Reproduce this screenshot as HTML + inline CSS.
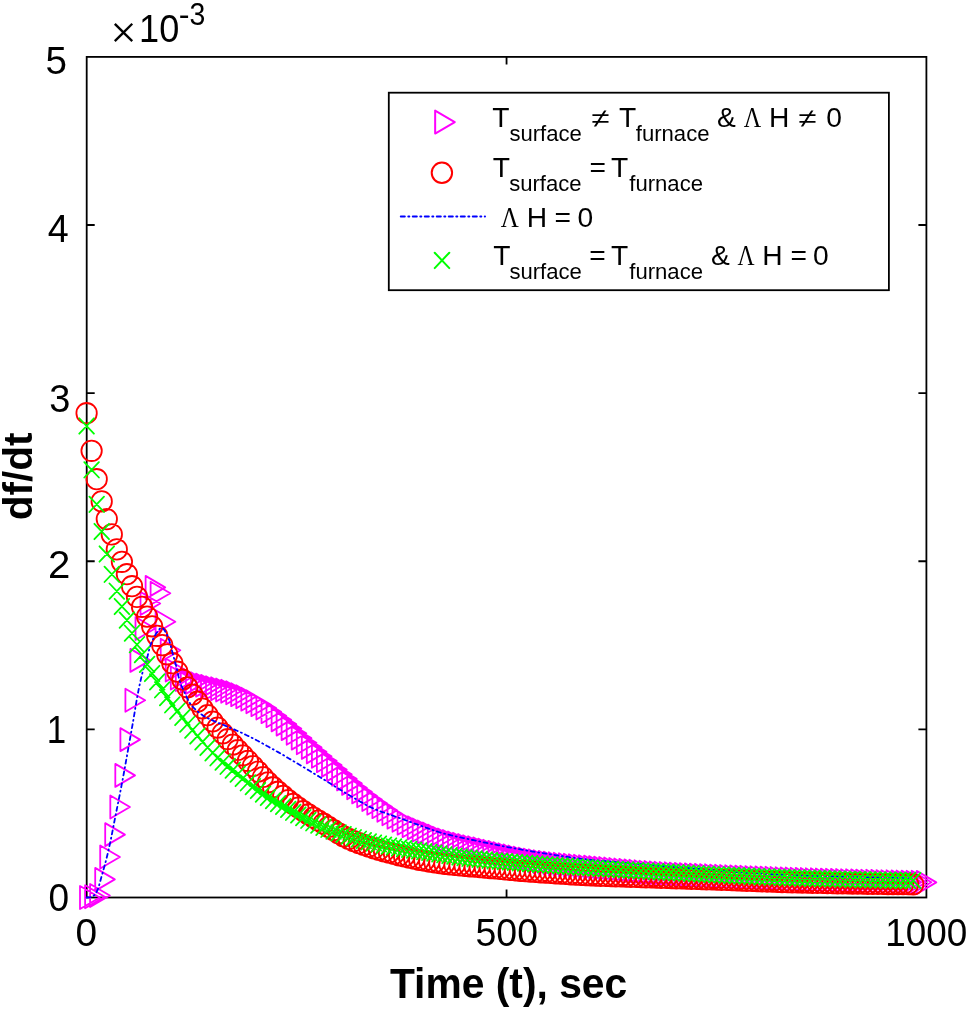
<!DOCTYPE html>
<html><head><meta charset="utf-8"><title>df/dt vs Time</title>
<style>
html,body{margin:0;padding:0;background:#fff;width:969px;height:1009px;overflow:hidden}
svg{display:block}
text{font-family:"Liberation Sans", Arial, sans-serif}
</style></head>
<body>
<svg width="969" height="1009" viewBox="0 0 969 1009">
<rect width="969" height="1009" fill="#fff"/>
<g fill="none" stroke="#000" stroke-width="1.8">
<rect x="86.7" y="56.9" width="839.70" height="840.60"/>
<path d="M86.7,729.38h8M926.4,729.38h-8M86.7,561.26h8M926.4,561.26h-8M86.7,393.14h8M926.4,393.14h-8M86.7,225.02h8M926.4,225.02h-8M506.55,897.5v-8M506.55,56.9v7.5"/>
</g>
<g fill="none" stroke-width="1.8">
<path d="M80,886L80,909L99.7,897.5ZM85.1,885.3L85.1,908.3L104.7,896.8ZM90.1,884L90.1,907L109.8,895.5ZM95.2,867.9L95.2,890.9L114.8,879.4ZM100.2,845.5L100.2,868.5L119.9,857ZM105.2,823.1L105.2,846.1L124.9,834.6ZM110.3,795.5L110.3,818.5L129.9,807ZM115.3,763.9L115.3,786.9L135,775.4ZM120.4,728.1L120.4,751.1L140,739.6ZM125.4,688.8L125.4,711.8L145.1,700.3ZM130.4,648.9L130.4,671.9L150.1,660.4ZM135.5,617L135.5,640L155.1,628.5ZM140.5,592L140.5,615L160.2,603.5ZM145.6,575.9L145.6,598.9L165.2,587.4ZM150.6,581.7L150.6,604.7L170.3,593.2ZM155.6,610.3L155.6,633.3L175.3,621.8ZM160.7,638.7L160.7,661.7L180.3,650.2ZM165.7,658.5L165.7,681.5L185.4,670ZM170.8,666.5L170.8,689.5L190.4,678ZM175.8,668L175.8,691L195.5,679.5ZM180.8,669.4L180.8,692.4L200.5,680.9ZM185.9,670.9L185.9,693.9L205.5,682.4ZM190.9,672.2L190.9,695.2L210.6,683.7ZM196,673.6L196,696.6L215.6,685.1ZM201,674.9L201,697.9L220.7,686.4ZM206,676.2L206,699.2L225.7,687.7ZM211.1,677.3L211.1,700.3L230.7,688.8ZM216.1,678.5L216.1,701.5L235.8,690ZM221.2,679.8L221.2,702.8L240.8,691.3ZM226.2,681.3L226.2,704.3L245.9,692.8ZM231.2,683.2L231.2,706.2L250.9,694.7ZM236.3,685.3L236.3,708.3L255.9,696.8ZM241.3,687.7L241.3,710.7L261,699.2ZM246.4,690.3L246.4,713.3L266,701.8ZM251.4,693.2L251.4,716.2L271.1,704.7ZM256.4,696.5L256.4,719.5L276.1,708ZM261.5,700.2L261.5,723.2L281.1,711.7ZM266.5,704.2L266.5,727.2L286.2,715.7ZM271.6,708.4L271.6,731.4L291.2,719.9ZM276.6,712.6L276.6,735.6L296.3,724.1ZM281.6,717.1L281.6,740.1L301.3,728.6ZM286.7,721.8L286.7,744.8L306.3,733.3ZM291.7,726.6L291.7,749.6L311.4,738.1ZM296.8,731.3L296.8,754.3L316.4,742.8ZM301.8,735.9L301.8,758.9L321.5,747.4ZM306.8,740.4L306.8,763.4L326.5,751.9ZM311.9,744.8L311.9,767.8L331.5,756.3ZM316.9,749.2L316.9,772.2L336.6,760.7ZM322,753.6L322,776.6L341.6,765.1ZM327,758.1L327,781.1L346.7,769.6ZM332.1,762.8L332.1,785.8L351.7,774.3ZM337.1,767.4L337.1,790.4L356.7,778.9ZM342.1,771.9L342.1,794.9L361.8,783.4ZM347.2,776.3L347.2,799.3L366.8,787.8ZM352.2,780.4L352.2,803.4L371.9,791.9ZM357.2,784.3L357.2,807.3L376.9,795.8ZM362.3,788L362.3,811L381.9,799.5ZM367.3,791.7L367.3,814.7L387,803.2ZM372.4,795.2L372.4,818.2L392,806.7ZM377.4,798.8L377.4,821.8L397.1,810.3ZM382.4,802.3L382.4,825.3L402.1,813.8ZM387.5,805.7L387.5,828.7L407.1,817.2ZM392.5,808.8L392.5,831.8L412.2,820.3ZM397.6,811.7L397.6,834.7L417.2,823.2ZM402.6,814.2L402.6,837.2L422.3,825.7ZM407.7,816.4L407.7,839.4L427.3,827.9ZM412.7,818.5L412.7,841.5L432.3,830ZM417.7,820.5L417.7,843.5L437.4,832ZM422.8,822.5L422.8,845.5L442.4,834ZM427.8,824.6L427.8,847.6L447.5,836.1ZM432.8,826.7L432.8,849.7L452.5,838.2ZM437.9,828.5L437.9,851.5L457.5,840ZM442.9,830L442.9,853L462.6,841.5ZM448,831.5L448,854.5L467.6,843ZM453,832.8L453,855.8L472.7,844.3ZM458.1,834L458.1,857L477.7,845.5ZM463.1,835.2L463.1,858.2L482.7,846.7ZM468.1,836.3L468.1,859.3L487.8,847.8ZM473.2,837.4L473.2,860.4L492.8,848.9ZM478.2,838.6L478.2,861.6L497.9,850.1ZM483.2,839.7L483.2,862.7L502.9,851.2ZM488.3,840.9L488.3,863.9L507.9,852.4ZM493.3,842.1L493.3,865.1L513,853.6ZM498.4,843.3L498.4,866.3L518,854.8ZM503.4,844.4L503.4,867.4L523.1,855.9ZM508.4,845.5L508.4,868.5L528.1,857ZM513.5,846.6L513.5,869.6L533.1,858.1ZM518.5,847.6L518.5,870.6L538.2,859.1ZM523.6,848.6L523.6,871.6L543.2,860.1ZM528.6,849.4L528.6,872.4L548.3,860.9ZM533.7,850.2L533.7,873.2L553.3,861.7ZM538.7,850.9L538.7,873.9L558.3,862.4ZM543.7,851.6L543.7,874.6L563.4,863.1ZM548.8,852.2L548.8,875.2L568.4,863.7ZM553.8,852.7L553.8,875.7L573.5,864.2ZM558.9,853.2L558.9,876.2L578.5,864.7ZM563.9,853.8L563.9,876.8L583.5,865.3ZM568.9,854.2L568.9,877.2L588.6,865.7ZM574,854.7L574,877.7L593.6,866.2ZM579,855.2L579,878.2L598.7,866.7ZM584.1,855.6L584.1,878.6L603.7,867.1ZM589.1,856.1L589.1,879.1L608.7,867.6ZM594.1,856.6L594.1,879.6L613.8,868.1ZM599.2,857L599.2,880L618.8,868.5ZM604.2,857.5L604.2,880.5L623.9,869ZM609.3,858L609.3,881L628.9,869.5ZM614.3,858.5L614.3,881.5L633.9,870ZM619.3,858.9L619.3,881.9L639,870.4ZM624.4,859.4L624.4,882.4L644,870.9ZM629.4,859.8L629.4,882.8L649.1,871.3ZM634.5,860.2L634.5,883.2L654.1,871.7ZM639.5,860.7L639.5,883.7L659.1,872.2ZM644.5,861L644.5,884L664.2,872.5ZM649.6,861.4L649.6,884.4L669.2,872.9ZM654.6,861.7L654.6,884.7L674.3,873.2ZM659.7,862L659.7,885L679.3,873.5ZM664.7,862.3L664.7,885.3L684.3,873.8ZM669.7,862.6L669.7,885.6L689.4,874.1ZM674.8,862.9L674.8,885.9L694.4,874.4ZM679.8,863.1L679.8,886.1L699.5,874.6ZM684.9,863.4L684.9,886.4L704.5,874.9ZM689.9,863.6L689.9,886.6L709.5,875.1ZM694.9,863.9L694.9,886.9L714.6,875.4ZM700,864.1L700,887.1L719.6,875.6ZM705,864.3L705,887.3L724.7,875.8ZM710.1,864.6L710.1,887.6L729.7,876.1ZM715.1,864.8L715.1,887.8L734.7,876.3ZM720.1,865L720.1,888L739.8,876.5ZM725.2,865.2L725.2,888.2L744.8,876.7ZM730.2,865.4L730.2,888.4L749.9,876.9ZM735.3,865.6L735.3,888.6L754.9,877.1ZM740.3,865.8L740.3,888.8L759.9,877.3ZM745.3,866.1L745.3,889.1L765,877.6ZM750.4,866.2L750.4,889.2L770,877.7ZM755.4,866.4L755.4,889.4L775.1,877.9ZM760.5,866.6L760.5,889.6L780.1,878.1ZM765.5,866.8L765.5,889.8L785.1,878.3ZM770.5,867L770.5,890L790.2,878.5ZM775.6,867.2L775.6,890.2L795.2,878.7ZM780.6,867.4L780.6,890.4L800.3,878.9ZM785.7,867.5L785.7,890.5L805.3,879ZM790.7,867.7L790.7,890.7L810.3,879.2ZM795.7,867.9L795.7,890.9L815.4,879.4ZM800.8,868L800.8,891L820.4,879.5ZM805.8,868.2L805.8,891.2L825.5,879.7ZM810.9,868.3L810.9,891.3L830.5,879.8ZM815.9,868.5L815.9,891.5L835.5,880ZM820.9,868.6L820.9,891.6L840.6,880.1ZM826,868.8L826,891.8L845.6,880.3ZM831,868.9L831,891.9L850.7,880.4ZM836.1,869L836.1,892L855.7,880.5ZM841.1,869.2L841.1,892.2L860.7,880.7ZM846.1,869.3L846.1,892.3L865.8,880.8ZM851.2,869.4L851.2,892.4L870.8,880.9ZM856.2,869.6L856.2,892.6L875.9,881.1ZM861.3,869.7L861.3,892.7L880.9,881.2ZM866.3,869.8L866.3,892.8L885.9,881.3ZM871.3,869.9L871.3,892.9L891,881.4ZM876.4,870.1L876.4,893.1L896,881.6ZM881.4,870.2L881.4,893.2L901.1,881.7ZM886.5,870.3L886.5,893.3L906.1,881.8ZM891.5,870.4L891.5,893.4L911.1,881.9ZM896.5,870.5L896.5,893.5L916.2,882ZM901.6,870.6L901.6,893.6L921.2,882.1ZM906.6,870.7L906.6,893.7L926.3,882.2ZM911.7,870.8L911.7,893.8L931.3,882.3ZM916.7,870.9L916.7,893.9L936.3,882.4Z" stroke="#ff00ff" stroke-linejoin="round"/>
<path d="M76.4,413.2a10.2,10.2 0 1,0 20.4,0a10.2,10.2 0 1,0 -20.4,0M81.4,450.8a10.2,10.2 0 1,0 20.4,0a10.2,10.2 0 1,0 -20.4,0M86.5,479.2a10.2,10.2 0 1,0 20.4,0a10.2,10.2 0 1,0 -20.4,0M91.5,501.4a10.2,10.2 0 1,0 20.4,0a10.2,10.2 0 1,0 -20.4,0M96.6,519.1a10.2,10.2 0 1,0 20.4,0a10.2,10.2 0 1,0 -20.4,0M101.6,534.4a10.2,10.2 0 1,0 20.4,0a10.2,10.2 0 1,0 -20.4,0M106.6,549.4a10.2,10.2 0 1,0 20.4,0a10.2,10.2 0 1,0 -20.4,0M111.7,561.8a10.2,10.2 0 1,0 20.4,0a10.2,10.2 0 1,0 -20.4,0M116.7,574.2a10.2,10.2 0 1,0 20.4,0a10.2,10.2 0 1,0 -20.4,0M121.8,586.2a10.2,10.2 0 1,0 20.4,0a10.2,10.2 0 1,0 -20.4,0M126.8,596.9a10.2,10.2 0 1,0 20.4,0a10.2,10.2 0 1,0 -20.4,0M131.8,606.8a10.2,10.2 0 1,0 20.4,0a10.2,10.2 0 1,0 -20.4,0M136.9,616.6a10.2,10.2 0 1,0 20.4,0a10.2,10.2 0 1,0 -20.4,0M141.9,626.3a10.2,10.2 0 1,0 20.4,0a10.2,10.2 0 1,0 -20.4,0M147,635.8a10.2,10.2 0 1,0 20.4,0a10.2,10.2 0 1,0 -20.4,0M152,645.1a10.2,10.2 0 1,0 20.4,0a10.2,10.2 0 1,0 -20.4,0M157,654.3a10.2,10.2 0 1,0 20.4,0a10.2,10.2 0 1,0 -20.4,0M162.1,663.2a10.2,10.2 0 1,0 20.4,0a10.2,10.2 0 1,0 -20.4,0M167.1,671.7a10.2,10.2 0 1,0 20.4,0a10.2,10.2 0 1,0 -20.4,0M172.2,679.7a10.2,10.2 0 1,0 20.4,0a10.2,10.2 0 1,0 -20.4,0M177.2,687.3a10.2,10.2 0 1,0 20.4,0a10.2,10.2 0 1,0 -20.4,0M182.2,694.6a10.2,10.2 0 1,0 20.4,0a10.2,10.2 0 1,0 -20.4,0M187.3,701.7a10.2,10.2 0 1,0 20.4,0a10.2,10.2 0 1,0 -20.4,0M192.3,708.5a10.2,10.2 0 1,0 20.4,0a10.2,10.2 0 1,0 -20.4,0M197.4,715.1a10.2,10.2 0 1,0 20.4,0a10.2,10.2 0 1,0 -20.4,0M202.4,721.5a10.2,10.2 0 1,0 20.4,0a10.2,10.2 0 1,0 -20.4,0M207.4,727.6a10.2,10.2 0 1,0 20.4,0a10.2,10.2 0 1,0 -20.4,0M212.5,733.4a10.2,10.2 0 1,0 20.4,0a10.2,10.2 0 1,0 -20.4,0M217.5,739.1a10.2,10.2 0 1,0 20.4,0a10.2,10.2 0 1,0 -20.4,0M222.6,744.6a10.2,10.2 0 1,0 20.4,0a10.2,10.2 0 1,0 -20.4,0M227.6,750a10.2,10.2 0 1,0 20.4,0a10.2,10.2 0 1,0 -20.4,0M232.6,755.4a10.2,10.2 0 1,0 20.4,0a10.2,10.2 0 1,0 -20.4,0M237.7,760.8a10.2,10.2 0 1,0 20.4,0a10.2,10.2 0 1,0 -20.4,0M242.7,766.1a10.2,10.2 0 1,0 20.4,0a10.2,10.2 0 1,0 -20.4,0M247.8,771.6a10.2,10.2 0 1,0 20.4,0a10.2,10.2 0 1,0 -20.4,0M252.8,777a10.2,10.2 0 1,0 20.4,0a10.2,10.2 0 1,0 -20.4,0M257.8,782.3a10.2,10.2 0 1,0 20.4,0a10.2,10.2 0 1,0 -20.4,0M262.9,787.2a10.2,10.2 0 1,0 20.4,0a10.2,10.2 0 1,0 -20.4,0M267.9,791.7a10.2,10.2 0 1,0 20.4,0a10.2,10.2 0 1,0 -20.4,0M273,795.9a10.2,10.2 0 1,0 20.4,0a10.2,10.2 0 1,0 -20.4,0M278,800a10.2,10.2 0 1,0 20.4,0a10.2,10.2 0 1,0 -20.4,0M283,803.8a10.2,10.2 0 1,0 20.4,0a10.2,10.2 0 1,0 -20.4,0M288.1,807.5a10.2,10.2 0 1,0 20.4,0a10.2,10.2 0 1,0 -20.4,0M293.1,811a10.2,10.2 0 1,0 20.4,0a10.2,10.2 0 1,0 -20.4,0M298.2,814.3a10.2,10.2 0 1,0 20.4,0a10.2,10.2 0 1,0 -20.4,0M303.2,817.5a10.2,10.2 0 1,0 20.4,0a10.2,10.2 0 1,0 -20.4,0M308.2,820.6a10.2,10.2 0 1,0 20.4,0a10.2,10.2 0 1,0 -20.4,0M313.3,823.7a10.2,10.2 0 1,0 20.4,0a10.2,10.2 0 1,0 -20.4,0M318.3,826.9a10.2,10.2 0 1,0 20.4,0a10.2,10.2 0 1,0 -20.4,0M323.4,830.1a10.2,10.2 0 1,0 20.4,0a10.2,10.2 0 1,0 -20.4,0M328.4,833.3a10.2,10.2 0 1,0 20.4,0a10.2,10.2 0 1,0 -20.4,0M333.4,836.3a10.2,10.2 0 1,0 20.4,0a10.2,10.2 0 1,0 -20.4,0M338.5,838.9a10.2,10.2 0 1,0 20.4,0a10.2,10.2 0 1,0 -20.4,0M343.5,841.1a10.2,10.2 0 1,0 20.4,0a10.2,10.2 0 1,0 -20.4,0M348.6,843.1a10.2,10.2 0 1,0 20.4,0a10.2,10.2 0 1,0 -20.4,0M353.6,844.9a10.2,10.2 0 1,0 20.4,0a10.2,10.2 0 1,0 -20.4,0M358.6,846.6a10.2,10.2 0 1,0 20.4,0a10.2,10.2 0 1,0 -20.4,0M363.7,848.3a10.2,10.2 0 1,0 20.4,0a10.2,10.2 0 1,0 -20.4,0M368.7,849.8a10.2,10.2 0 1,0 20.4,0a10.2,10.2 0 1,0 -20.4,0M373.8,851.3a10.2,10.2 0 1,0 20.4,0a10.2,10.2 0 1,0 -20.4,0M378.8,852.7a10.2,10.2 0 1,0 20.4,0a10.2,10.2 0 1,0 -20.4,0M383.8,854a10.2,10.2 0 1,0 20.4,0a10.2,10.2 0 1,0 -20.4,0M388.9,855.3a10.2,10.2 0 1,0 20.4,0a10.2,10.2 0 1,0 -20.4,0M393.9,856.5a10.2,10.2 0 1,0 20.4,0a10.2,10.2 0 1,0 -20.4,0M399,857.6a10.2,10.2 0 1,0 20.4,0a10.2,10.2 0 1,0 -20.4,0M404,858.7a10.2,10.2 0 1,0 20.4,0a10.2,10.2 0 1,0 -20.4,0M409,859.8a10.2,10.2 0 1,0 20.4,0a10.2,10.2 0 1,0 -20.4,0M414.1,860.7a10.2,10.2 0 1,0 20.4,0a10.2,10.2 0 1,0 -20.4,0M419.1,861.7a10.2,10.2 0 1,0 20.4,0a10.2,10.2 0 1,0 -20.4,0M424.2,862.5a10.2,10.2 0 1,0 20.4,0a10.2,10.2 0 1,0 -20.4,0M429.2,863.2a10.2,10.2 0 1,0 20.4,0a10.2,10.2 0 1,0 -20.4,0M434.2,863.8a10.2,10.2 0 1,0 20.4,0a10.2,10.2 0 1,0 -20.4,0M439.3,864.4a10.2,10.2 0 1,0 20.4,0a10.2,10.2 0 1,0 -20.4,0M444.3,864.9a10.2,10.2 0 1,0 20.4,0a10.2,10.2 0 1,0 -20.4,0M449.4,865.4a10.2,10.2 0 1,0 20.4,0a10.2,10.2 0 1,0 -20.4,0M454.4,865.8a10.2,10.2 0 1,0 20.4,0a10.2,10.2 0 1,0 -20.4,0M459.4,866.3a10.2,10.2 0 1,0 20.4,0a10.2,10.2 0 1,0 -20.4,0M464.5,866.7a10.2,10.2 0 1,0 20.4,0a10.2,10.2 0 1,0 -20.4,0M469.5,867.2a10.2,10.2 0 1,0 20.4,0a10.2,10.2 0 1,0 -20.4,0M474.6,867.6a10.2,10.2 0 1,0 20.4,0a10.2,10.2 0 1,0 -20.4,0M479.6,868.1a10.2,10.2 0 1,0 20.4,0a10.2,10.2 0 1,0 -20.4,0M484.6,868.5a10.2,10.2 0 1,0 20.4,0a10.2,10.2 0 1,0 -20.4,0M489.7,869a10.2,10.2 0 1,0 20.4,0a10.2,10.2 0 1,0 -20.4,0M494.7,869.5a10.2,10.2 0 1,0 20.4,0a10.2,10.2 0 1,0 -20.4,0M499.8,869.9a10.2,10.2 0 1,0 20.4,0a10.2,10.2 0 1,0 -20.4,0M504.8,870.3a10.2,10.2 0 1,0 20.4,0a10.2,10.2 0 1,0 -20.4,0M509.8,870.8a10.2,10.2 0 1,0 20.4,0a10.2,10.2 0 1,0 -20.4,0M514.9,871.2a10.2,10.2 0 1,0 20.4,0a10.2,10.2 0 1,0 -20.4,0M519.9,871.6a10.2,10.2 0 1,0 20.4,0a10.2,10.2 0 1,0 -20.4,0M525,871.9a10.2,10.2 0 1,0 20.4,0a10.2,10.2 0 1,0 -20.4,0M530,872.3a10.2,10.2 0 1,0 20.4,0a10.2,10.2 0 1,0 -20.4,0M535,872.7a10.2,10.2 0 1,0 20.4,0a10.2,10.2 0 1,0 -20.4,0M540.1,873a10.2,10.2 0 1,0 20.4,0a10.2,10.2 0 1,0 -20.4,0M545.1,873.3a10.2,10.2 0 1,0 20.4,0a10.2,10.2 0 1,0 -20.4,0M550.2,873.7a10.2,10.2 0 1,0 20.4,0a10.2,10.2 0 1,0 -20.4,0M555.2,874a10.2,10.2 0 1,0 20.4,0a10.2,10.2 0 1,0 -20.4,0M560.2,874.3a10.2,10.2 0 1,0 20.4,0a10.2,10.2 0 1,0 -20.4,0M565.3,874.6a10.2,10.2 0 1,0 20.4,0a10.2,10.2 0 1,0 -20.4,0M570.3,874.9a10.2,10.2 0 1,0 20.4,0a10.2,10.2 0 1,0 -20.4,0M575.4,875.1a10.2,10.2 0 1,0 20.4,0a10.2,10.2 0 1,0 -20.4,0M580.4,875.4a10.2,10.2 0 1,0 20.4,0a10.2,10.2 0 1,0 -20.4,0M585.4,875.6a10.2,10.2 0 1,0 20.4,0a10.2,10.2 0 1,0 -20.4,0M590.5,875.8a10.2,10.2 0 1,0 20.4,0a10.2,10.2 0 1,0 -20.4,0M595.5,876a10.2,10.2 0 1,0 20.4,0a10.2,10.2 0 1,0 -20.4,0M600.6,876.2a10.2,10.2 0 1,0 20.4,0a10.2,10.2 0 1,0 -20.4,0M605.6,876.4a10.2,10.2 0 1,0 20.4,0a10.2,10.2 0 1,0 -20.4,0M610.6,876.5a10.2,10.2 0 1,0 20.4,0a10.2,10.2 0 1,0 -20.4,0M615.7,876.7a10.2,10.2 0 1,0 20.4,0a10.2,10.2 0 1,0 -20.4,0M620.7,876.9a10.2,10.2 0 1,0 20.4,0a10.2,10.2 0 1,0 -20.4,0M625.8,877a10.2,10.2 0 1,0 20.4,0a10.2,10.2 0 1,0 -20.4,0M630.8,877.2a10.2,10.2 0 1,0 20.4,0a10.2,10.2 0 1,0 -20.4,0M635.8,877.3a10.2,10.2 0 1,0 20.4,0a10.2,10.2 0 1,0 -20.4,0M640.9,877.5a10.2,10.2 0 1,0 20.4,0a10.2,10.2 0 1,0 -20.4,0M645.9,877.7a10.2,10.2 0 1,0 20.4,0a10.2,10.2 0 1,0 -20.4,0M651,877.8a10.2,10.2 0 1,0 20.4,0a10.2,10.2 0 1,0 -20.4,0M656,878a10.2,10.2 0 1,0 20.4,0a10.2,10.2 0 1,0 -20.4,0M661,878.1a10.2,10.2 0 1,0 20.4,0a10.2,10.2 0 1,0 -20.4,0M666.1,878.3a10.2,10.2 0 1,0 20.4,0a10.2,10.2 0 1,0 -20.4,0M671.1,878.5a10.2,10.2 0 1,0 20.4,0a10.2,10.2 0 1,0 -20.4,0M676.2,878.6a10.2,10.2 0 1,0 20.4,0a10.2,10.2 0 1,0 -20.4,0M681.2,878.8a10.2,10.2 0 1,0 20.4,0a10.2,10.2 0 1,0 -20.4,0M686.2,878.9a10.2,10.2 0 1,0 20.4,0a10.2,10.2 0 1,0 -20.4,0M691.3,879.1a10.2,10.2 0 1,0 20.4,0a10.2,10.2 0 1,0 -20.4,0M696.3,879.3a10.2,10.2 0 1,0 20.4,0a10.2,10.2 0 1,0 -20.4,0M701.4,879.5a10.2,10.2 0 1,0 20.4,0a10.2,10.2 0 1,0 -20.4,0M706.4,879.7a10.2,10.2 0 1,0 20.4,0a10.2,10.2 0 1,0 -20.4,0M711.4,879.8a10.2,10.2 0 1,0 20.4,0a10.2,10.2 0 1,0 -20.4,0M716.5,880a10.2,10.2 0 1,0 20.4,0a10.2,10.2 0 1,0 -20.4,0M721.5,880.2a10.2,10.2 0 1,0 20.4,0a10.2,10.2 0 1,0 -20.4,0M726.6,880.4a10.2,10.2 0 1,0 20.4,0a10.2,10.2 0 1,0 -20.4,0M731.6,880.6a10.2,10.2 0 1,0 20.4,0a10.2,10.2 0 1,0 -20.4,0M736.6,880.8a10.2,10.2 0 1,0 20.4,0a10.2,10.2 0 1,0 -20.4,0M741.7,881a10.2,10.2 0 1,0 20.4,0a10.2,10.2 0 1,0 -20.4,0M746.7,881.2a10.2,10.2 0 1,0 20.4,0a10.2,10.2 0 1,0 -20.4,0M751.8,881.4a10.2,10.2 0 1,0 20.4,0a10.2,10.2 0 1,0 -20.4,0M756.8,881.6a10.2,10.2 0 1,0 20.4,0a10.2,10.2 0 1,0 -20.4,0M761.8,881.7a10.2,10.2 0 1,0 20.4,0a10.2,10.2 0 1,0 -20.4,0M766.9,881.9a10.2,10.2 0 1,0 20.4,0a10.2,10.2 0 1,0 -20.4,0M771.9,882.1a10.2,10.2 0 1,0 20.4,0a10.2,10.2 0 1,0 -20.4,0M777,882.2a10.2,10.2 0 1,0 20.4,0a10.2,10.2 0 1,0 -20.4,0M782,882.4a10.2,10.2 0 1,0 20.4,0a10.2,10.2 0 1,0 -20.4,0M787,882.5a10.2,10.2 0 1,0 20.4,0a10.2,10.2 0 1,0 -20.4,0M792.1,882.6a10.2,10.2 0 1,0 20.4,0a10.2,10.2 0 1,0 -20.4,0M797.1,882.7a10.2,10.2 0 1,0 20.4,0a10.2,10.2 0 1,0 -20.4,0M802.2,882.8a10.2,10.2 0 1,0 20.4,0a10.2,10.2 0 1,0 -20.4,0M807.2,882.9a10.2,10.2 0 1,0 20.4,0a10.2,10.2 0 1,0 -20.4,0M812.2,883a10.2,10.2 0 1,0 20.4,0a10.2,10.2 0 1,0 -20.4,0M817.3,883.1a10.2,10.2 0 1,0 20.4,0a10.2,10.2 0 1,0 -20.4,0M822.3,883.2a10.2,10.2 0 1,0 20.4,0a10.2,10.2 0 1,0 -20.4,0M827.4,883.3a10.2,10.2 0 1,0 20.4,0a10.2,10.2 0 1,0 -20.4,0M832.4,883.4a10.2,10.2 0 1,0 20.4,0a10.2,10.2 0 1,0 -20.4,0M837.4,883.5a10.2,10.2 0 1,0 20.4,0a10.2,10.2 0 1,0 -20.4,0M842.5,883.6a10.2,10.2 0 1,0 20.4,0a10.2,10.2 0 1,0 -20.4,0M847.5,883.7a10.2,10.2 0 1,0 20.4,0a10.2,10.2 0 1,0 -20.4,0M852.6,883.7a10.2,10.2 0 1,0 20.4,0a10.2,10.2 0 1,0 -20.4,0M857.6,883.8a10.2,10.2 0 1,0 20.4,0a10.2,10.2 0 1,0 -20.4,0M862.6,883.9a10.2,10.2 0 1,0 20.4,0a10.2,10.2 0 1,0 -20.4,0M867.7,883.9a10.2,10.2 0 1,0 20.4,0a10.2,10.2 0 1,0 -20.4,0M872.7,884a10.2,10.2 0 1,0 20.4,0a10.2,10.2 0 1,0 -20.4,0M877.8,884.1a10.2,10.2 0 1,0 20.4,0a10.2,10.2 0 1,0 -20.4,0M882.8,884.1a10.2,10.2 0 1,0 20.4,0a10.2,10.2 0 1,0 -20.4,0M887.8,884.2a10.2,10.2 0 1,0 20.4,0a10.2,10.2 0 1,0 -20.4,0M892.9,884.2a10.2,10.2 0 1,0 20.4,0a10.2,10.2 0 1,0 -20.4,0M897.9,884.2a10.2,10.2 0 1,0 20.4,0a10.2,10.2 0 1,0 -20.4,0M903,884.3a10.2,10.2 0 1,0 20.4,0a10.2,10.2 0 1,0 -20.4,0" stroke="#ff0000"/>
<path d="M86.6,897.5L87.6,897.5L88.6,897.4L89.6,897.3L90.6,897.2L91.6,897L92.6,896.6L93.6,895.8L94.6,894.8L95.6,893.5L96.6,892L97.6,890L98.6,887.1L99.6,883.6L100.6,879.9L101.6,876.3L102.6,872.9L103.6,869.4L104.6,865.7L105.6,862L106.6,858.1L107.6,854L108.6,849.8L109.6,845.4L110.6,840.7L111.6,835.7L112.6,830.6L113.6,825.5L114.6,820.3L115.6,815.3L116.6,810.3L117.6,805.4L118.6,800.4L119.6,795.4L120.6,790.3L121.6,785.1L122.6,779.9L123.6,774.5L124.6,769L125.6,763.5L126.6,757.9L127.6,752.3L128.6,746.7L129.6,741.1L130.6,735.5L131.6,729.9L132.6,724.3L133.6,718.5L134.6,712.6L135.6,706.4L136.6,700.4L137.6,694.9L138.6,689.8L139.6,685L140.6,680.5L141.6,676.2L142.6,672.1L143.6,668.4L144.6,665L145.6,662.1L146.6,659.2L147.6,655.9L148.6,651.9L149.6,647.9L150.6,644.7L151.6,642.2L152.6,640L153.6,638L154.6,636.2L155.6,634.6L156.6,633.1L157.6,631.6L158.6,630.2L159.6,628.9L160.6,628.1L161.6,627.7L162.6,628.1L163.6,629.1L164.6,630.6L165.6,632.2L166.6,633.9L167.6,636.1L168.6,638.6L169.6,641.5L170.6,645.2L171.6,649.3L172.6,653.1L173.6,656.7L174.6,660.3L175.6,663.9L176.6,667.7L177.6,672.1L178.6,676.7L179.6,680.7L180.6,683.6L181.6,686L182.6,688.2L183.6,690.3L184.6,692.4L185.6,694.6L186.6,696.8L187.6,699L188.6,701L189.6,702.7L190.6,704.1L191.6,705.3L192.6,706.5L193.6,707.6L194.6,708.6L195.6,709.6L196.6,710.5L197.6,711.4L198.6,712.2L199.6,713L200.6,713.8L201.6,714.5L202.6,715.2L203.6,715.9L204.6,716.5L205.6,717.1L206.6,717.6L207.6,718.1L208.6,718.6L209.6,719.1L210.6,719.5L211.6,720L212.6,720.4L213.6,720.9L214.6,721.3L215.6,721.7L216.6,722.1L217.6,722.6L218.6,723L219.6,723.4L220.6,723.8L221.6,724.2L222.6,724.6L223.6,725L224.6,725.4L225.6,725.8L226.6,726.2L227.6,726.7L228.6,727.1L229.6,727.5L230.6,727.9L231.6,728.3L232.6,728.7L233.6,729.2L234.6,729.6L235.6,730.1L236.6,730.5L237.6,731L238.6,731.4L239.6,731.9L240.6,732.3L241.6,732.8L242.6,733.3L243.6,733.7L244.6,734.2L245.6,734.7L246.6,735.2L247.6,735.7L248.6,736.2L249.6,736.6L250.6,737.2L251.6,737.7L252.6,738.2L253.6,738.7L254.6,739.2L255.6,739.7L256.6,740.3L257.6,740.8L258.6,741.3L259.6,741.9L260.6,742.4L261.6,742.9L262.6,743.5L263.6,744L264.6,744.6L265.6,745.1L266.6,745.7L267.6,746.2L268.6,746.8L269.6,747.4L270.6,747.9L271.6,748.5L272.6,749L273.6,749.6L274.6,750.2L275.6,750.7L276.6,751.3L277.6,751.9L278.6,752.4L279.6,753L280.6,753.6L281.6,754.2L282.6,754.7L283.6,755.3L284.6,755.9L285.6,756.5L286.6,757.1L287.6,757.7L288.6,758.3L289.6,758.9L290.6,759.4L291.6,760L292.6,760.6L293.6,761.2L294.6,761.8L295.6,762.4L296.6,763L297.6,763.6L298.6,764.2L299.6,764.8L300.6,765.4L301.6,766L302.6,766.6L303.6,767.2L304.6,767.8L305.6,768.4L306.6,769L307.6,769.6L308.6,770.2L309.6,770.8L310.6,771.4L311.6,772L312.6,772.7L313.6,773.3L314.6,773.9L315.6,774.5L316.6,775.1L317.6,775.7L318.6,776.3L319.6,776.9L320.6,777.5L321.6,778.2L322.6,778.8L323.6,779.4L324.6,780L325.6,780.6L326.6,781.2L327.6,781.8L328.6,782.5L329.6,783.1L330.6,783.7L331.6,784.4L332.6,785L333.6,785.6L334.6,786.2L335.6,786.9L336.6,787.5L337.6,788.1L338.6,788.7L339.6,789.4L340.6,790L341.6,790.6L342.6,791.2L343.6,791.8L344.6,792.4L345.6,793L346.6,793.6L347.6,794.2L348.6,794.8L349.6,795.4L350.6,796L351.6,796.6L352.6,797.2L353.6,797.8L354.6,798.3L355.6,798.9L356.6,799.5L357.6,800.1L358.6,800.7L359.6,801.3L360.6,801.9L361.6,802.4L362.6,803L363.6,803.6L364.6,804.1L365.6,804.7L366.6,805.2L367.6,805.7L368.6,806.2L369.6,806.7L370.6,807.2L371.6,807.7L372.6,808.1L373.6,808.6L374.6,809L375.6,809.4L376.6,809.8L377.6,810.2L378.6,810.6L379.6,811L380.6,811.4L381.6,811.8L382.6,812.1L383.6,812.5L384.6,812.8L385.6,813.2L386.6,813.5L387.6,813.9L388.6,814.2L389.6,814.5L390.6,814.9L391.6,815.2L392.6,815.6L393.6,815.9L394.6,816.3L395.6,816.6L396.6,817L397.6,817.3L398.6,817.7L399.6,818L400.6,818.4L401.6,818.8L402.6,819.1L403.6,819.5L404.6,819.9L405.6,820.2L406.6,820.6L407.6,821L408.6,821.3L409.6,821.7L410.6,822.1L411.6,822.4L412.6,822.8L413.6,823.2L414.6,823.5L415.6,823.9L416.6,824.2L417.6,824.6L418.6,825L419.6,825.3L420.6,825.7L421.6,826L422.6,826.4L423.6,826.7L424.6,827.1L425.6,827.5L426.6,827.8L427.6,828.2L428.6,828.6L429.6,828.9L430.6,829.3L431.6,829.7L432.6,830L433.6,830.4L434.6,830.7L435.6,831L436.6,831.4L437.6,831.7L438.6,832L439.6,832.3L440.6,832.6L441.6,832.8L442.6,833.1L443.6,833.4L444.6,833.7L445.6,833.9L446.6,834.2L447.6,834.4L448.6,834.7L449.6,834.9L450.6,835.2L451.6,835.4L452.6,835.6L453.6,835.9L454.6,836.1L455.6,836.3L456.6,836.6L457.6,836.8L458.6,837L459.6,837.2L460.6,837.4L461.6,837.6L462.6,837.9L463.6,838.1L464.6,838.3L465.6,838.5L466.6,838.7L467.6,838.9L468.6,839.1L469.6,839.3L470.6,839.6L471.6,839.8L472.6,840L473.6,840.2L474.6,840.4L475.6,840.6L476.6,840.8L477.6,841L478.6,841.2L479.6,841.5L480.6,841.7L481.6,841.9L482.6,842.1L483.6,842.3L484.6,842.5L485.6,842.7L486.6,842.9L487.6,843.1L488.6,843.3L489.6,843.5L490.6,843.7L491.6,843.9L492.6,844.1L493.6,844.3L494.6,844.5L495.6,844.7L496.6,844.9L497.6,845.1L498.6,845.3L499.6,845.5L500.6,845.7L501.6,845.9L502.6,846.1L503.6,846.3L504.6,846.5L505.6,846.7L506.6,846.9L507.6,847.1L508.6,847.3L509.6,847.4L510.6,847.6L511.6,847.8L512.6,848L513.6,848.2L514.6,848.4L515.6,848.5L516.6,848.7L517.6,848.9L518.6,849.1L519.6,849.2L520.6,849.4L521.6,849.6L522.6,849.8L523.6,849.9L524.6,850.1L525.6,850.3L526.6,850.5L527.6,850.6L528.6,850.8L529.6,851L530.6,851.1L531.6,851.3L532.6,851.5L533.6,851.6L534.6,851.8L535.6,852L536.6,852.1L537.6,852.3L538.6,852.5L539.6,852.6L540.6,852.8L541.6,852.9L542.6,853.1L543.6,853.3L544.6,853.4L545.6,853.6L546.6,853.7L547.6,853.9L548.6,854.1L549.6,854.2L550.6,854.4L551.6,854.5L552.6,854.7L553.6,854.8L554.6,855L555.6,855.1L556.6,855.3L557.6,855.4L558.6,855.6L559.6,855.8L560.6,855.9L561.6,856.1L562.6,856.2L563.6,856.4L564.6,856.5L565.6,856.7L566.6,856.8L567.6,857L568.6,857.1L569.6,857.2L570.6,857.4L571.6,857.5L572.6,857.7L573.6,857.8L574.6,857.9L575.6,858.1L576.6,858.2L577.6,858.3L578.6,858.4L579.6,858.6L580.6,858.7L581.6,858.8L582.6,858.9L583.6,859L584.6,859.1L585.6,859.2L586.6,859.3L587.6,859.4L588.6,859.5L589.6,859.7L590.6,859.8L591.6,859.9L592.6,860L593.6,860.1L594.6,860.2L595.6,860.3L596.6,860.4L597.6,860.5L598.6,860.6L599.6,860.6L600.6,860.7L601.6,860.8L602.6,860.9L603.6,861L604.6,861.1L605.6,861.2L606.6,861.3L607.6,861.4L608.6,861.5L609.6,861.6L610.6,861.7L611.6,861.7L612.6,861.8L613.6,861.9L614.6,862L615.6,862.1L616.6,862.2L617.6,862.3L618.6,862.3L619.6,862.4L620.6,862.5L621.6,862.6L622.6,862.7L623.6,862.8L624.6,862.8L625.6,862.9L626.6,863L627.6,863.1L628.6,863.2L629.6,863.3L630.6,863.3L631.6,863.4L632.6,863.5L633.6,863.6L634.6,863.7L635.6,863.7L636.6,863.8L637.6,863.9L638.6,864L639.6,864.1L640.6,864.1L641.6,864.2L642.6,864.3L643.6,864.4L644.6,864.5L645.6,864.6L646.6,864.6L647.6,864.7L648.6,864.8L649.6,864.9L650.6,865L651.6,865.1L652.6,865.1L653.6,865.2L654.6,865.3L655.6,865.4L656.6,865.5L657.6,865.5L658.6,865.6L659.6,865.7L660.6,865.8L661.6,865.9L662.6,866L663.6,866L664.6,866.1L665.6,866.2L666.6,866.3L667.6,866.4L668.6,866.5L669.6,866.6L670.6,866.6L671.6,866.7L672.6,866.8L673.6,866.9L674.6,867L675.6,867.1L676.6,867.1L677.6,867.2L678.6,867.3L679.6,867.4L680.6,867.5L681.6,867.6L682.6,867.6L683.6,867.7L684.6,867.8L685.6,867.9L686.6,868L687.6,868.1L688.6,868.1L689.6,868.2L690.6,868.3L691.6,868.4L692.6,868.5L693.6,868.6L694.6,868.6L695.6,868.7L696.6,868.8L697.6,868.9L698.6,869L699.6,869L700.6,869.1L701.6,869.2L702.6,869.3L703.6,869.4L704.6,869.5L705.6,869.5L706.6,869.6L707.6,869.7L708.6,869.8L709.6,869.9L710.6,869.9L711.6,870L712.6,870.1L713.6,870.2L714.6,870.3L715.6,870.3L716.6,870.4L717.6,870.5L718.6,870.6L719.6,870.6L720.6,870.7L721.6,870.8L722.6,870.9L723.6,871L724.6,871L725.6,871.1L726.6,871.2L727.6,871.3L728.6,871.3L729.6,871.4L730.6,871.5L731.6,871.6L732.6,871.6L733.6,871.7L734.6,871.8L735.6,871.9L736.6,871.9L737.6,872L738.6,872.1L739.6,872.1L740.6,872.2L741.6,872.3L742.6,872.4L743.6,872.4L744.6,872.5L745.6,872.6L746.6,872.6L747.6,872.7L748.6,872.8L749.6,872.8L750.6,872.9L751.6,873L752.6,873L753.6,873.1L754.6,873.2L755.6,873.2L756.6,873.3L757.6,873.4L758.6,873.4L759.6,873.5L760.6,873.6L761.6,873.6L762.6,873.7L763.6,873.8L764.6,873.8L765.6,873.9L766.6,873.9L767.6,874L768.6,874.1L769.6,874.1L770.6,874.2L771.6,874.2L772.6,874.3L773.6,874.3L774.6,874.4L775.6,874.5L776.6,874.5L777.6,874.6L778.6,874.6L779.6,874.7L780.6,874.7L781.6,874.8L782.6,874.8L783.6,874.9L784.6,874.9L785.6,875L786.6,875L787.6,875.1L788.6,875.1L789.6,875.2L790.6,875.2L791.6,875.3L792.6,875.3L793.6,875.4L794.6,875.4L795.6,875.4L796.6,875.5L797.6,875.5L798.6,875.6L799.6,875.6L800.6,875.7L801.6,875.7L802.6,875.7L803.6,875.8L804.6,875.8L805.6,875.8L806.6,875.9L807.6,875.9L808.6,876L809.6,876L810.6,876L811.6,876.1L812.6,876.1L813.6,876.1L814.6,876.1L815.6,876.2L816.6,876.2L817.6,876.2L818.6,876.3L819.6,876.3L820.6,876.3L821.6,876.4L822.6,876.4L823.6,876.4L824.6,876.4L825.6,876.5L826.6,876.5L827.6,876.5L828.6,876.5L829.6,876.6L830.6,876.6L831.6,876.6L832.6,876.6L833.6,876.7L834.6,876.7L835.6,876.7L836.6,876.7L837.6,876.7L838.6,876.8L839.6,876.8L840.6,876.8L841.6,876.8L842.6,876.9L843.6,876.9L844.6,876.9L845.6,876.9L846.6,876.9L847.6,877L848.6,877L849.6,877L850.6,877L851.6,877L852.6,877.1L853.6,877.1L854.6,877.1L855.6,877.1L856.6,877.1L857.6,877.2L858.6,877.2L859.6,877.2L860.6,877.2L861.6,877.2L862.6,877.3L863.6,877.3L864.6,877.3L865.6,877.3L866.6,877.3L867.6,877.4L868.6,877.4L869.6,877.4L870.6,877.4L871.6,877.4L872.6,877.5L873.6,877.5L874.6,877.5L875.6,877.5L876.6,877.6L877.6,877.6L878.6,877.6L879.6,877.6L880.6,877.6L881.6,877.7L882.6,877.7L883.6,877.7L884.6,877.7L885.6,877.8L886.6,877.8L887.6,877.8L888.6,877.8L889.6,877.9L890.6,877.9L891.6,877.9L892.6,877.9L893.6,878L894.6,878L895.6,878L896.6,878L897.6,878.1L898.6,878.1L899.6,878.1L900.6,878.2L901.6,878.2L902.6,878.2L903.6,878.3L904.6,878.3L905.6,878.3L906.6,878.3L907.6,878.4L908.6,878.4L909.6,878.4L910.6,878.5L911.6,878.5L912.6,878.5" stroke="#0000ff" stroke-linecap="round" stroke-dasharray="4 3.5 1 3.5"/>
<path d="M79.3,418.3L93.9,433.7M79.3,433.7L93.9,418.3M84.3,462.1L98.9,477.5M84.3,477.5L98.9,462.1M89.4,496.6L104,512M89.4,512L104,496.6M94.4,523.8L109,539.2M94.4,539.2L109,523.8M99.5,546.3L114.1,561.7M99.5,561.7L114.1,546.3M104.5,566.6L119.1,582M104.5,582L119.1,566.6M109.5,583.5L124.1,598.9M109.5,598.9L124.1,583.5M114.6,598.8L129.2,614.2M114.6,614.2L129.2,598.8M119.6,612.4L134.2,627.8M119.6,627.8L134.2,612.4M124.7,625.5L139.3,640.9M124.7,640.9L139.3,625.5M129.7,637L144.3,652.4M129.7,652.4L144.3,637M134.7,646.9L149.3,662.3M134.7,662.3L149.3,646.9M139.8,656.7L154.4,672.1M139.8,672.1L154.4,656.7M144.8,665.8L159.4,681.2M144.8,681.2L159.4,665.8M149.9,674.2L164.5,689.6M149.9,689.6L164.5,674.2M154.9,682.1L169.5,697.5M154.9,697.5L169.5,682.1M159.9,690L174.5,705.4M159.9,705.4L174.5,690M165,697.1L179.6,712.5M165,712.5L179.6,697.1M170,703.5L184.6,718.9M170,718.9L184.6,703.5M175.1,709.8L189.7,725.2M175.1,725.2L189.7,709.8M180.1,716.5L194.7,731.9M180.1,731.9L194.7,716.5M185.1,722.5L199.7,737.9M185.1,737.9L199.7,722.5M190.2,728.3L204.8,743.7M190.2,743.7L204.8,728.3M195.2,734.2L209.8,749.6M195.2,749.6L209.8,734.2M200.3,739.8L214.9,755.2M200.3,755.2L214.9,739.8M205.3,745.2L219.9,760.6M205.3,760.6L219.9,745.2M210.3,750.1L224.9,765.5M210.3,765.5L224.9,750.1M215.4,754.5L230,769.9M215.4,769.9L230,754.5M220.4,758.6L235,774M220.4,774L235,758.6M225.5,762.5L240.1,777.9M225.5,777.9L240.1,762.5M230.5,766.5L245.1,781.9M230.5,781.9L245.1,766.5M235.5,770.8L250.1,786.2M235.5,786.2L250.1,770.8M240.6,775.1L255.2,790.5M240.6,790.5L255.2,775.1M245.6,779L260.2,794.4M245.6,794.4L260.2,779M250.7,782.8L265.3,798.2M250.7,798.2L265.3,782.8M255.7,786.4L270.3,801.8M255.7,801.8L270.3,786.4M260.7,789.8L275.3,805.2M260.7,805.2L275.3,789.8M265.8,792.9L280.4,808.3M265.8,808.3L280.4,792.9M270.8,795.9L285.4,811.3M270.8,811.3L285.4,795.9M275.9,798.8L290.5,814.2M275.9,814.2L290.5,798.8M280.9,801.7L295.5,817.1M280.9,817.1L295.5,801.7M285.9,804.6L300.5,820M285.9,820L300.5,804.6M291,807.3L305.6,822.7M291,822.7L305.6,807.3M296,810L310.6,825.4M296,825.4L310.6,810M301.1,812.6L315.7,828M301.1,828L315.7,812.6M306.1,815.1L320.7,830.5M306.1,830.5L320.7,815.1M311.1,817.5L325.7,832.9M311.1,832.9L325.7,817.5M316.2,819.7L330.8,835.1M316.2,835.1L330.8,819.7M321.2,821.6L335.8,837M321.2,837L335.8,821.6M326.3,823.4L340.9,838.8M326.3,838.8L340.9,823.4M331.3,825.2L345.9,840.6M331.3,840.6L345.9,825.2M336.3,826.8L350.9,842.2M336.3,842.2L350.9,826.8M341.4,828.5L356,843.9M341.4,843.9L356,828.5M346.4,830L361,845.4M346.4,845.4L361,830M351.5,831.5L366.1,846.9M351.5,846.9L366.1,831.5M356.5,832.9L371.1,848.3M356.5,848.3L371.1,832.9M361.5,834.1L376.1,849.5M361.5,849.5L376.1,834.1M366.6,835.3L381.2,850.7M366.6,850.7L381.2,835.3M371.6,836.3L386.2,851.7M371.6,851.7L386.2,836.3M376.7,837.4L391.3,852.8M376.7,852.8L391.3,837.4M381.7,838.3L396.3,853.7M381.7,853.7L396.3,838.3M386.7,839.2L401.3,854.6M386.7,854.6L401.3,839.2M391.8,840.1L406.4,855.5M391.8,855.5L406.4,840.1M396.8,840.9L411.4,856.3M396.8,856.3L411.4,840.9M401.9,841.7L416.5,857.1M401.9,857.1L416.5,841.7M406.9,842.4L421.5,857.8M406.9,857.8L421.5,842.4M411.9,843.2L426.5,858.6M411.9,858.6L426.5,843.2M417,843.9L431.6,859.3M417,859.3L431.6,843.9M422,844.7L436.6,860.1M422,860.1L436.6,844.7M427.1,845.4L441.7,860.8M427.1,860.8L441.7,845.4M432.1,846.2L446.7,861.6M432.1,861.6L446.7,846.2M437.1,847L451.7,862.4M437.1,862.4L451.7,847M442.2,847.8L456.8,863.2M442.2,863.2L456.8,847.8M447.2,848.5L461.8,863.9M447.2,863.9L461.8,848.5M452.3,849.3L466.9,864.7M452.3,864.7L466.9,849.3M457.3,849.9L471.9,865.3M457.3,865.3L471.9,849.9M462.3,850.6L476.9,866M462.3,866L476.9,850.6M467.4,851.1L482,866.5M467.4,866.5L482,851.1M472.4,851.6L487,867M472.4,867L487,851.6M477.5,852.1L492.1,867.5M477.5,867.5L492.1,852.1M482.5,852.6L497.1,868M482.5,868L497.1,852.6M487.5,853.1L502.1,868.5M487.5,868.5L502.1,853.1M492.6,853.5L507.2,868.9M492.6,868.9L507.2,853.5M497.6,853.9L512.2,869.3M497.6,869.3L512.2,853.9M502.7,854.3L517.3,869.7M502.7,869.7L517.3,854.3M507.7,854.7L522.3,870.1M507.7,870.1L522.3,854.7M512.7,855.1L527.3,870.5M512.7,870.5L527.3,855.1M517.8,855.5L532.4,870.9M517.8,870.9L532.4,855.5M522.8,855.9L537.4,871.3M522.8,871.3L537.4,855.9M527.9,856.3L542.5,871.7M527.9,871.7L542.5,856.3M532.9,856.7L547.5,872.1M532.9,872.1L547.5,856.7M537.9,857.1L552.5,872.5M537.9,872.5L552.5,857.1M543,857.4L557.6,872.8M543,872.8L557.6,857.4M548,857.8L562.6,873.2M548,873.2L562.6,857.8M553.1,858.1L567.7,873.5M553.1,873.5L567.7,858.1M558.1,858.5L572.7,873.9M558.1,873.9L572.7,858.5M563.1,858.8L577.7,874.2M563.1,874.2L577.7,858.8M568.2,859.2L582.8,874.6M568.2,874.6L582.8,859.2M573.2,859.5L587.8,874.9M573.2,874.9L587.8,859.5M578.3,859.8L592.9,875.2M578.3,875.2L592.9,859.8M583.3,860.1L597.9,875.5M583.3,875.5L597.9,860.1M588.3,860.5L602.9,875.9M588.3,875.9L602.9,860.5M593.4,860.8L608,876.2M593.4,876.2L608,860.8M598.4,861.1L613,876.5M598.4,876.5L613,861.1M603.5,861.3L618.1,876.7M603.5,876.7L618.1,861.3M608.5,861.6L623.1,877M608.5,877L623.1,861.6M613.5,861.9L628.1,877.3M613.5,877.3L628.1,861.9M618.6,862.2L633.2,877.6M618.6,877.6L633.2,862.2M623.6,862.5L638.2,877.9M623.6,877.9L638.2,862.5M628.7,862.8L643.3,878.2M628.7,878.2L643.3,862.8M633.7,863.1L648.3,878.5M633.7,878.5L648.3,863.1M638.7,863.3L653.3,878.7M638.7,878.7L653.3,863.3M643.8,863.6L658.4,879M643.8,879L658.4,863.6M648.8,863.9L663.4,879.3M648.8,879.3L663.4,863.9M653.9,864.2L668.5,879.6M653.9,879.6L668.5,864.2M658.9,864.4L673.5,879.8M658.9,879.8L673.5,864.4M663.9,864.7L678.5,880.1M663.9,880.1L678.5,864.7M669,865L683.6,880.4M669,880.4L683.6,865M674,865.2L688.6,880.6M674,880.6L688.6,865.2M679.1,865.5L693.7,880.9M679.1,880.9L693.7,865.5M684.1,865.8L698.7,881.2M684.1,881.2L698.7,865.8M689.1,866L703.7,881.4M689.1,881.4L703.7,866M694.2,866.3L708.8,881.7M694.2,881.7L708.8,866.3M699.2,866.5L713.8,881.9M699.2,881.9L713.8,866.5M704.3,866.8L718.9,882.2M704.3,882.2L718.9,866.8M709.3,867L723.9,882.4M709.3,882.4L723.9,867M714.3,867.2L728.9,882.6M714.3,882.6L728.9,867.2M719.4,867.5L734,882.9M719.4,882.9L734,867.5M724.4,867.7L739,883.1M724.4,883.1L739,867.7M729.5,867.9L744.1,883.3M729.5,883.3L744.1,867.9M734.5,868.1L749.1,883.5M734.5,883.5L749.1,868.1M739.5,868.4L754.1,883.8M739.5,883.8L754.1,868.4M744.6,868.6L759.2,884M744.6,884L759.2,868.6M749.6,868.8L764.2,884.2M749.6,884.2L764.2,868.8M754.7,869L769.3,884.4M754.7,884.4L769.3,869M759.7,869.2L774.3,884.6M759.7,884.6L774.3,869.2M764.7,869.4L779.3,884.8M764.7,884.8L779.3,869.4M769.8,869.5L784.4,884.9M769.8,884.9L784.4,869.5M774.8,869.7L789.4,885.1M774.8,885.1L789.4,869.7M779.9,869.9L794.5,885.3M779.9,885.3L794.5,869.9M784.9,870.1L799.5,885.5M784.9,885.5L799.5,870.1M789.9,870.2L804.5,885.6M789.9,885.6L804.5,870.2M795,870.4L809.6,885.8M795,885.8L809.6,870.4M800,870.5L814.6,885.9M800,885.9L814.6,870.5M805.1,870.7L819.7,886.1M805.1,886.1L819.7,870.7M810.1,870.8L824.7,886.2M810.1,886.2L824.7,870.8M815.1,870.9L829.7,886.3M815.1,886.3L829.7,870.9M820.2,871.1L834.8,886.5M820.2,886.5L834.8,871.1M825.2,871.2L839.8,886.6M825.2,886.6L839.8,871.2M830.3,871.3L844.9,886.7M830.3,886.7L844.9,871.3M835.3,871.5L849.9,886.9M835.3,886.9L849.9,871.5M840.3,871.6L854.9,887M840.3,887L854.9,871.6M845.4,871.7L860,887.1M845.4,887.1L860,871.7M850.4,871.8L865,887.2M850.4,887.2L865,871.8M855.5,871.9L870.1,887.3M855.5,887.3L870.1,871.9M860.5,872L875.1,887.4M860.5,887.4L875.1,872M865.5,872.1L880.1,887.5M865.5,887.5L880.1,872.1M870.6,872.2L885.2,887.6M870.6,887.6L885.2,872.2M875.6,872.3L890.2,887.7M875.6,887.7L890.2,872.3M880.7,872.4L895.3,887.8M880.7,887.8L895.3,872.4M885.7,872.5L900.3,887.9M885.7,887.9L900.3,872.5M890.7,872.6L905.3,888M890.7,888L905.3,872.6M895.8,872.7L910.4,888.1M895.8,888.1L910.4,872.7M900.8,872.7L915.4,888.1M900.8,888.1L915.4,872.7M905.9,872.8L920.5,888.2M905.9,888.2L920.5,872.8" stroke="#00ff00" stroke-linecap="round"/>
</g>
<g fill="#000">
<text transform="translate(45.55,73.70) scale(0.9948,1)" font-size="38.80">5</text>
<text transform="translate(47.83,241.50) scale(0.9718,1)" font-size="38.80">4</text>
<text transform="translate(49.25,412.40) scale(0.9785,1)" font-size="38.80">3</text>
<text transform="translate(47.88,578.00) scale(1.0353,1)" font-size="38.80">2</text>
<text transform="translate(46.84,742.70) scale(0.9000,1)" font-size="38.80">1</text>
<text transform="translate(48.45,910.60) scale(0.9543,1)" font-size="38.80">0</text>
<text transform="translate(75.48,946.20) scale(1.0028,1)" font-size="38.80">0</text>
<text transform="translate(475.50,946.00) scale(0.9649,1)" font-size="38.80">500</text>
<text transform="translate(885.29,946.40) scale(0.9506,1)" font-size="38.80">1000</text>
<text transform="translate(110.19,48.30) scale(1.0099,1)" font-size="46.50" style='font-family:"Liberation Serif", "Times New Roman", serif'>×</text>
<text transform="translate(139.05,42.40) scale(0.9306,1)" font-size="38.80">10</text>
<text transform="translate(178.86,25.00) scale(1.0609,1)" font-size="30.50">-</text>
<text transform="translate(189.52,25.00) scale(0.9336,1)" font-size="30.50">3</text>
<text transform="translate(389.94,997.60) scale(0.9714,1)" font-size="42.00" font-weight="bold">Time (t), sec</text>
<g transform="translate(32.3,518.6) rotate(-90)"><text transform="translate(-1.66,0.00) scale(0.9754,1)" font-size="41.50" font-weight="bold">df/dt</text></g>
</g>
<rect x="388.8" y="92.7" width="500.1" height="197.5" fill="#fff" stroke="#000" stroke-width="1.8"/>
<g fill="none" stroke-width="2">
<path d="M435.15,110.6L435.15,133.6L454.8,122.1Z" stroke="#ff00ff" stroke-linejoin="round"/>
<path d="M431.7,172.8a10.2,10.2 0 1,0 20.4,0a10.2,10.2 0 1,0 -20.4,0" stroke="#ff0000"/>
<path d="M400.8,216.6H485" stroke="#0000ff" stroke-linecap="round" stroke-dasharray="4 3.5 1 3.5"/>
<path d="M434.7,252.7L449.3,268.1M434.7,268.1L449.3,252.7" stroke="#00ff00" stroke-linecap="round"/>
</g>
<g fill="#000">
<text transform="translate(492.37,126.80)" font-size="28.20">T</text>
<text transform="translate(509.38,140.60)" font-size="22.10">surface</text>
<text transform="translate(591.25,126.80) scale(1.2746,1)" font-size="26.00">≠</text>
<text transform="translate(618.97,126.80)" font-size="28.20">T</text>
<text transform="translate(635.79,140.60)" font-size="22.10">furnace</text>
<text transform="translate(716.91,126.80)" font-size="28.20">&amp;</text>
<text transform="translate(743.66,126.80) scale(0.8257,1)" font-size="29.20" style='font-family:"Liberation Serif", "Times New Roman", serif'>Λ</text>
<text transform="translate(769.09,126.80)" font-size="28.20">H</text>
<text transform="translate(798.25,126.80) scale(1.2746,1)" font-size="26.00">≠</text>
<text transform="translate(826.20,126.80)" font-size="28.20">0</text>
<text transform="translate(492.67,177.20)" font-size="28.20">T</text>
<text transform="translate(509.18,191.00)" font-size="22.10">surface</text>
<text transform="translate(589.52,177.20)" font-size="28.20">=</text>
<text transform="translate(610.97,177.20)" font-size="28.20">T</text>
<text transform="translate(629.29,191.00)" font-size="22.10">furnace</text>
<text transform="translate(500.66,227.00) scale(0.8549,1)" font-size="29.20" style='font-family:"Liberation Serif", "Times New Roman", serif'>Λ</text>
<text transform="translate(526.69,227.00)" font-size="28.20">H</text>
<text transform="translate(554.42,227.00)" font-size="28.20">=</text>
<text transform="translate(577.50,227.00)" font-size="28.20">0</text>
<text transform="translate(493.37,265.40)" font-size="28.20">T</text>
<text transform="translate(509.38,279.20)" font-size="22.10">surface</text>
<text transform="translate(589.32,265.40)" font-size="28.20">=</text>
<text transform="translate(611.07,265.40)" font-size="28.20">T</text>
<text transform="translate(629.29,279.20)" font-size="22.10">furnace</text>
<text transform="translate(711.01,265.40)" font-size="28.20">&amp;</text>
<text transform="translate(737.57,265.40) scale(0.8063,1)" font-size="29.20" style='font-family:"Liberation Serif", "Times New Roman", serif'>Λ</text>
<text transform="translate(762.29,265.40)" font-size="28.20">H</text>
<text transform="translate(790.62,265.40)" font-size="28.20">=</text>
<text transform="translate(812.90,265.40)" font-size="28.20">0</text>
</g>
</svg>
</body></html>
